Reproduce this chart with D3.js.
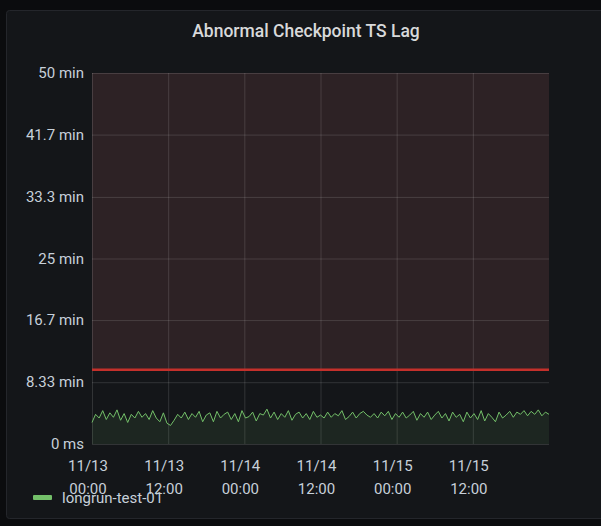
<!DOCTYPE html>
<html><head><meta charset="utf-8">
<script src="https://cdn.jsdelivr.net/npm/d3@7"></script>
<style>
body{margin:0;background:#0b0c0e;font-family:Roboto,"Open Sans",sans-serif;}
</style></head><body>
<svg id="chart" width="601" height="526"></svg>
<script>
// lag in minutes, evenly sampled from 11/13 00:00 to 11/16 00:00
var lagValues = [
 2.9,4.0,3.5,4.5,3.3,4.2,3.6,4.6,3.2,4.1,2.9,4.0,3.5,4.4,3.6,4.1,
 3.3,4.5,3.5,3.0,4.2,2.8,2.5,3.2,4.0,3.5,4.3,3.3,4.1,3.6,4.4,3.0,
 3.9,4.2,3.0,4.4,3.5,4.0,4.3,3.3,4.1,3.0,4.5,3.5,3.7,4.3,3.1,4.1,
 3.9,4.7,3.5,4.3,3.3,4.1,3.6,4.5,3.2,4.0,4.3,3.5,4.1,3.3,4.4,3.6,
 3.9,3.5,4.3,3.6,4.1,3.8,4.5,3.3,3.7,4.3,3.5,4.1,4.4,3.9,3.6,4.1,
 3.5,4.3,3.8,4.4,3.3,4.1,3.6,4.3,3.5,3.9,4.4,3.2,4.1,3.6,4.3,3.3,
 3.9,4.4,3.5,4.1,3.1,4.3,3.6,4.0,3.0,4.3,3.5,4.1,3.3,4.5,3.1,4.1,
 3.6,3.0,4.3,3.5,3.9,4.4,3.6,4.3,4.0,4.5,3.8,4.4,4.0,4.6,3.8,4.3,4.0
];
var startTime = new Date(2023, 10, 13, 0, 0);
var endTime = new Date(2023, 10, 16, 0, 0);
var yTicks = [0, 8.33, 16.7, 25, 33.3, 41.7, 50];
var yTickLabels = ["0 ms", "8.33 min", "16.7 min", "25 min", "33.3 min", "41.7 min", "50 min"];
var xTicks = [0, 12, 24, 36, 48, 60].map(function(h) { return new Date(2023, 10, 13, h); });
var threshold = 10;
var seriesName = "longrun-test-01";

var step = (endTime - startTime) / (lagValues.length - 1);
var points = lagValues.map(function(v, i) {
    return { t: new Date(startTime.getTime() + i * step), v: v };
});

var svg = d3.select("svg#chart");
svg.append("rect").attr("x", 6.5).attr("y", 10.5).attr("width", 600).attr("height", 508)
    .attr("rx", 3).attr("fill", "#141619").attr("stroke", "#24262b");

svg.append("text").attr("x", 306).attr("y", 37).attr("text-anchor", "middle")
    .style("font-size", "17.5px").style("font-weight", "500").attr("fill", "#d8d9da")
    .text("Abnormal Checkpoint TS Lag");

var margin = { top: 73, left: 92 };
var plotWidth = 457, plotHeight = 371;
var x = d3.scaleTime().domain([startTime, endTime]).range([0, plotWidth]);
var y = d3.scaleLinear().domain([0, 50]).range([plotHeight, 0]);

var plot = svg.append("g").attr("transform", "translate(" + margin.left + "," + margin.top + ")");

plot.append("rect").attr("x", 0).attr("y", 0).attr("width", plotWidth)
    .attr("height", y(threshold)).attr("fill", "#2d2225");

plot.append("g").call(d3.axisLeft(y).tickValues(yTicks).tickSize(-plotWidth).tickFormat(""))
    .call(function(g) { g.select(".domain").remove(); })
    .selectAll("line").attr("stroke", "#ffffff").attr("stroke-opacity", 0.13);
plot.append("g").call(d3.axisBottom(x).tickValues(xTicks).tickSize(plotHeight).tickFormat(""))
    .call(function(g) { g.select(".domain").remove(); })
    .selectAll("line").attr("stroke", "#ffffff").attr("stroke-opacity", 0.13);

plot.append("path").datum(points)
    .attr("d", d3.area().x(function(d) { return x(d.t); }).y0(y(0)).y1(function(d) { return y(d.v); }))
    .attr("fill", "#73bf69").attr("fill-opacity", 0.1);
plot.append("path").datum(points)
    .attr("d", d3.line().x(function(d) { return x(d.t); }).y(function(d) { return y(d.v); }))
    .attr("fill", "none").attr("stroke", "#73bf69").attr("stroke-width", 1);

plot.append("line").attr("x1", 0).attr("x2", plotWidth).attr("y1", y(threshold)).attr("y2", y(threshold))
    .attr("stroke", "#c4302b").attr("stroke-width", 2.5);

yTicks.forEach(function(t, i) {
    plot.append("text").attr("x", -8).attr("y", y(t)).attr("dy", "0.35em").attr("text-anchor", "end")
        .style("font-size", "15px").attr("fill", "#c7d0d9").text(yTickLabels[i]);
});
var fmtDay = d3.timeFormat("%m/%d"), fmtHour = d3.timeFormat("%H:%M");
xTicks.forEach(function(t) {
    var tx = x(t) - 4;
    plot.append("text").attr("x", tx).attr("y", plotHeight + 27).attr("text-anchor", "middle")
        .style("font-size", "15px").attr("fill", "#c7d0d9").text(fmtDay(t));
    plot.append("text").attr("x", tx).attr("y", plotHeight + 50).attr("text-anchor", "middle")
        .style("font-size", "15px").attr("fill", "#c7d0d9").text(fmtHour(t));
});

svg.append("rect").attr("x", 33).attr("y", 495).attr("width", 19).attr("height", 5)
    .attr("rx", 1).attr("fill", "#73bf69");
svg.append("text").attr("x", 62).attr("y", 503).style("font-size", "15px")
    .attr("fill", "#c7d0d9").text(seriesName);
</script>
</body></html>
